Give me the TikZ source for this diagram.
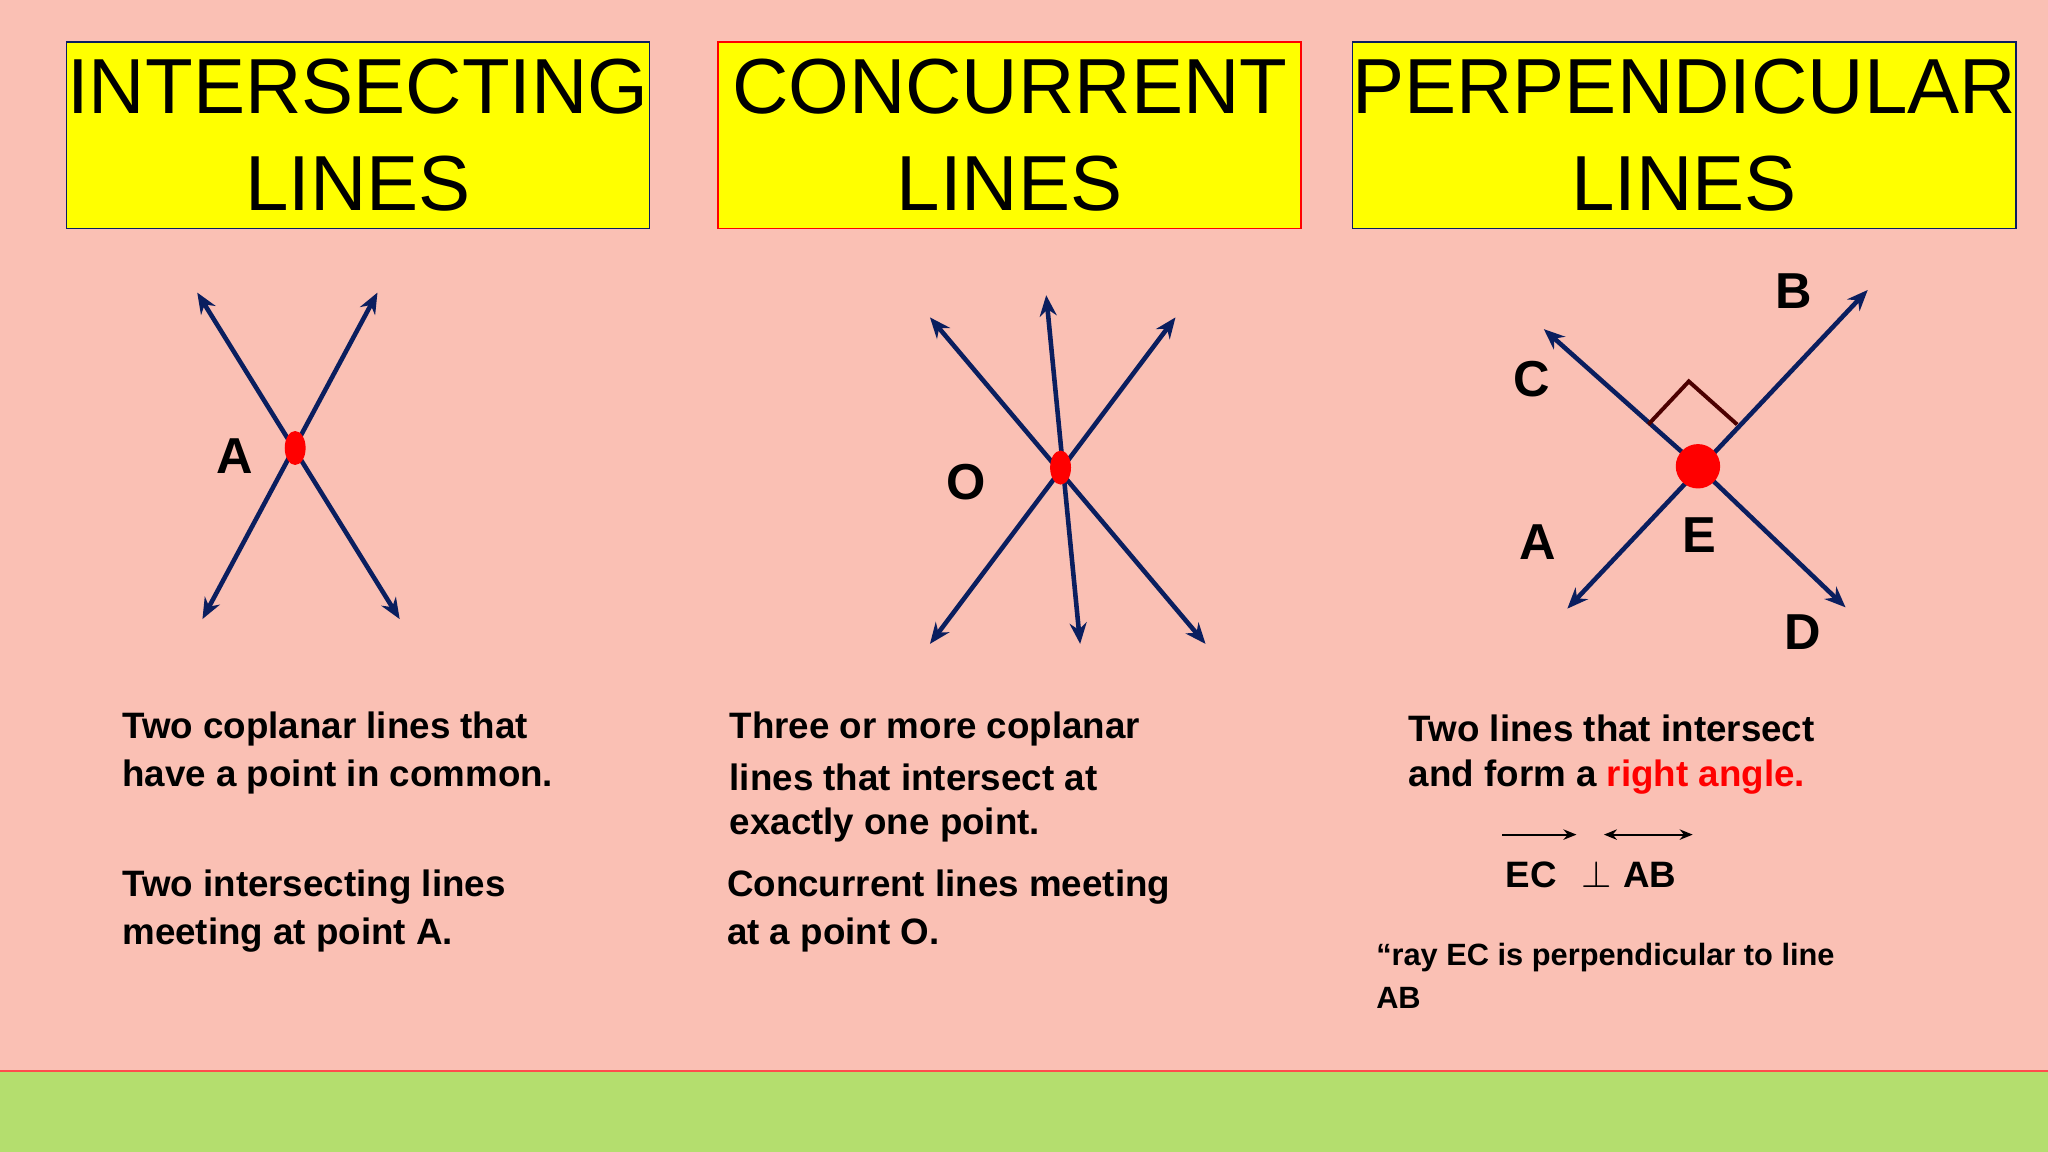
\documentclass[tikz,border=0pt]{standalone}
\usepackage{fontspec}
\setmainfont{Liberation Sans}
\usetikzlibrary{arrows.meta}
\definecolor{bg}{RGB}{250,192,180}
\definecolor{navy}{RGB}{10,30,95}
\definecolor{grn}{RGB}{180,222,110}
\definecolor{ylw}{RGB}{255,255,0}
\tikzset{
 ln/.style={navy,line width=0.035cm,{Stealth[length=0.16cm,width=0.13cm]}-{Stealth[length=0.16cm,width=0.13cm]}},
 ry/.style={navy,line width=0.035cm,-{Stealth[length=0.16cm,width=0.13cm]}},
 title/.style={fill=ylw,draw=navy,line width=0.012cm,minimum width=4.46cm,minimum height=1.43cm,align=center,font=\fontsize{17}{21}\selectfont,inner sep=0},
 body/.style={anchor=west,inner sep=0,font=\bfseries\fontsize{8}{9}\selectfont},
 lab/.style={font=\bfseries\fontsize{11}{12}\selectfont,inner sep=0},
 dot/.style={fill=red,draw=none,ellipse}
}
\begin{document}
\begin{tikzpicture}[x=0.01cm,y=-0.01cm]
\useasboundingbox (0,0) rectangle (1568,882);
\fill[bg] (0,0) rectangle (1568,882);
\fill[grn] (0,820) rectangle (1568,882);
\draw[red!70,line width=0.01cm] (0,820) -- (1568,820);
\node[title] (t1) at (274,103.5) {INTERSECTING\\LINES};
\node[title,draw=red] (t2) at (773,103.5) {CONCURRENT\\LINES};
\node[title,minimum width=5.07cm] (t3) at (1289.5,103.5) {PERPENDICULAR\\LINES};
% intersecting
\coordinate (a1) at (151,224); \coordinate (a2) at (306,474);
\coordinate (b1) at (289,224); \coordinate (b2) at (155,474);
\draw[ln] (a1) -- (a2); \draw[ln] (b1) -- (b2);
\fill[red] (226,343) ellipse (8 and 13);
\node[lab] (A1) at (180,349) {A};
% concurrent
\coordinate (c1) at (712,243); \coordinate (c2) at (923,493);
\coordinate (d1) at (801,226); \coordinate (d2) at (827,493);
\coordinate (e1) at (900,243); \coordinate (e2) at (712,493);
\draw[ln] (c1) -- (c2); \draw[ln] (d1) -- (d2); \draw[ln] (e1) -- (e2);
\fill[red] (812,358) ellipse (8 and 13);
\node[lab] (O) at (740,369) {O};
% perpendicular
\coordinate (E) at (1300,357);
\coordinate (pA) at (1200,466); \coordinate (pB) at (1430,222);
\coordinate (pC) at (1182,252); \coordinate (pD) at (1413,465);
\draw[ln] (pA) -- (pB);
\draw[ry] (E) -- (pC); \draw[ry] (E) -- (pD);
\draw[black!70!red,line width=0.03cm] (1262,325) -- (1293,292) -- (1330,325);
\fill[red] (E) circle (17);
\node[lab] (lB) at (1373,223) {B};
\node[lab] (lC) at (1173,290) {C};
\node[lab] (lA) at (1177,415) {A};
\node[lab] (lE) at (1301,410) {E};
\node[lab] (lD) at (1380,484) {D};
% texts
\node[body] at (93,558) {Two coplanar lines that};
\node[body] at (93,595) {have a point in common.};
\node[body] at (93,679) {Two intersecting lines};
\node[body] at (93,716) {meeting at point A.};
\node[body] at (558,558) {Three or more coplanar};
\node[body] at (558,595) {lines that intersect at};
\node[body] at (558,632) {exactly one point.};
\node[body] at (556,679) {Concurrent lines meeting};
\node[body] at (556,716) {at a point O.};
\node[body] at (1078,558) {Two lines that intersect};
\node[body] at (1078,595) {and form a \textcolor{red}{right angle.}};
\node[body] (nEC) at (1152,670) {EC};
\node[body] (nperp) at (1210,670) {$\perp$};
\node[body] (nAB) at (1242,670) {AB};
\coordinate (r1) at (1150,639); \coordinate (r2) at (1207,639);
\coordinate (s1) at (1228,639); \coordinate (s2) at (1296,639);
\draw[black,line width=0.015cm,-{Stealth[length=0.1cm,width=0.08cm]}] (r1) -- (r2);
\draw[black,line width=0.015cm,{Stealth[length=0.1cm,width=0.08cm]}-{Stealth[length=0.1cm,width=0.08cm]}] (s1) -- (s2);
\node[body,font=\bfseries\fontsize{6.7}{8}\selectfont] at (1053,733) {“ray EC is perpendicular to line};
\node[body,font=\bfseries\fontsize{6.7}{8}\selectfont] at (1053,764) {AB};
\end{tikzpicture}
\end{document}
